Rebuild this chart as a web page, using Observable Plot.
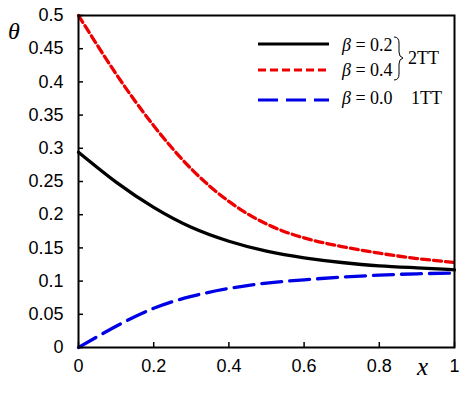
<!DOCTYPE html>
<html><head><meta charset="utf-8">
<script src="https://cdn.jsdelivr.net/npm/d3@7"></script>
<script src="https://cdn.jsdelivr.net/npm/@observablehq/plot@0.6"></script>
<style>body{margin:0;background:#fff}</style>
</head><body><div id="chart"></div>
<script>
const xValues = [0, 0.1, 0.2, 0.3, 0.4, 0.5, 0.6, 0.7, 0.8, 0.9, 1.0];
const beta02 = [0.294, 0.249, 0.211, 0.181, 0.160, 0.145, 0.135, 0.128, 0.123, 0.120, 0.117];
const beta04 = [0.5, 0.412, 0.334, 0.269, 0.220, 0.186, 0.165, 0.152, 0.142, 0.134, 0.128];
const beta00 = [0, 0.032, 0.059, 0.077, 0.089, 0.097, 0.102, 0.106, 0.109, 0.111, 0.112];
const yTicks = [0, 0.05, 0.1, 0.15, 0.2, 0.25, 0.3, 0.35, 0.4, 0.45, 0.5];
const xTicks = [0, 0.2, 0.4, 0.6, 0.8, 1];
const seriesNames = ["0.2", "0.4", "0.0"];
const seriesGroups = ["2TT", "2TT", "1TT"];

const seriesStyle = [
  {color: "#000000", dash: null},
  {color: "#ee0000", dash: "8,4"},
  {color: "#0000e6", dash: "20,8"}
];
const seriesValues = [beta02, beta04, beta00];
const tables = seriesValues.map(vals => xValues.map((x, i) => ({x, y: vals[i]})));

const fmt = d => String(+d.toFixed(2));

const lineMarks = tables.map((t, i) => Plot.line(t, {
  x: "x", y: "y", curve: "natural",
  stroke: seriesStyle[i].color, strokeWidth: 3.3,
  strokeDasharray: seriesStyle[i].dash
}));

const svg = Plot.plot({
  width: 474, height: 395,
  marginLeft: 78, marginRight: 20, marginTop: 15, marginBottom: 48,
  x: {domain: [0, 1]},
  y: {domain: [0, 0.5]},
  style: {fontFamily: "'Liberation Sans', Arial, sans-serif", fontSize: "18px", color: "#000", background: "#fff"},
  marks: [
    ...lineMarks,
    Plot.axisY({ticks: yTicks, tickSize: 0, tickPadding: 15, tickFormat: fmt, label: null}),
    Plot.axisY({ticks: yTicks, tickSize: 5, dx: 5, tickFormat: () => "", label: null, strokeWidth: 1.5}),
    Plot.axisX({ticks: xTicks, tickSize: 0, tickPadding: 12, tickFormat: fmt, label: null}),
    Plot.axisX({ticks: xTicks, tickSize: 5, dy: -5, tickFormat: () => "", label: null, strokeWidth: 1.5}),
    Plot.frame({stroke: "#000", strokeWidth: 2})
  ]
});

const s = d3.select(svg);
s.selectAll("text").style("font-size", "18px").style("font-family", "'Liberation Sans', Arial, sans-serif").attr("fill", "#000");
const serif = "'Liberation Serif', 'Times New Roman', serif";
// axis titles
s.append("text").attr("x", 8).attr("y", 39).attr("text-anchor", "start").attr("font-family", serif).attr("font-style", "italic")
  .attr("font-size", 24).attr("fill", "#000").text("θ");
s.append("text").attr("x", 417).attr("y", 375).attr("text-anchor", "start").attr("font-family", serif).attr("font-style", "italic")
  .attr("font-size", 25).attr("fill", "#000").text("x");

// legend
const legY = [44, 70, 100];
const legBase = [51, 76, 104];
seriesNames.forEach((name, i) => {
  s.append("line").attr("x1", 258).attr("x2", 329).attr("y1", legY[i]).attr("y2", legY[i])
    .attr("stroke", seriesStyle[i].color).attr("stroke-width", 3)
    .attr("stroke-dasharray", seriesStyle[i].dash);
  const t = s.append("text").attr("x", 342).attr("y", legBase[i]).attr("text-anchor", "start")
    .attr("font-family", serif).attr("font-size", 18).attr("fill", "#000")
    .attr("style", "white-space:pre");
  t.append("tspan").attr("font-style", "italic").text("β");
  t.append("tspan").text(" = " + name);
});
s.append("path")
  .attr("d", "M394,37 Q399,37 399,43 L399,52 Q399,57 403,58 Q399,59 399,64 L399,74 Q399,80 394,80")
  .attr("fill", "none").attr("stroke", "#000").attr("stroke-width", 1);
s.append("text").attr("x", 408).attr("y", 64).attr("text-anchor", "start").attr("font-family", serif).attr("font-size", 18)
  .attr("fill", "#000").text(seriesGroups[0]);
s.append("text").attr("x", 411).attr("y", 104).attr("text-anchor", "start").attr("font-family", serif).attr("font-size", 18)
  .attr("fill", "#000").text(seriesGroups[2]);

document.getElementById("chart").appendChild(svg);
</script>
</body></html>
